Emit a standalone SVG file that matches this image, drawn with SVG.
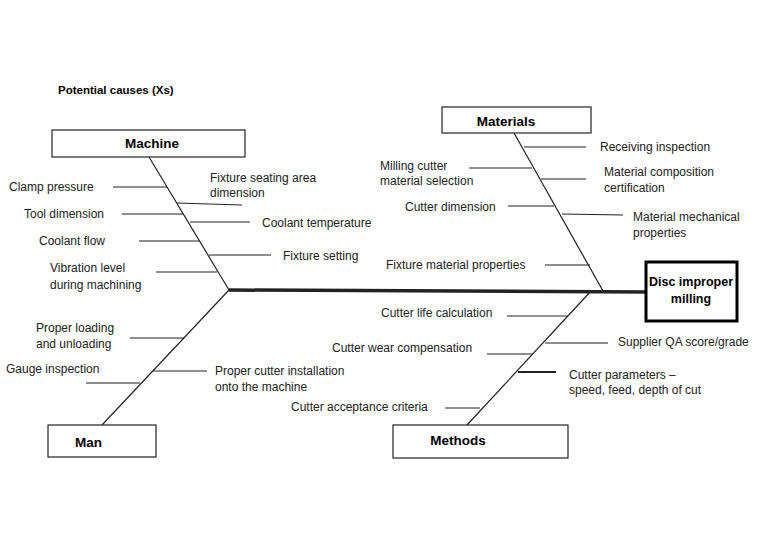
<svg xmlns="http://www.w3.org/2000/svg" width="768" height="543" viewBox="0 0 768 543">
<style>
text{font-family:"Liberation Sans",Arial,sans-serif;font-size:12px;fill:#222}
.t{font-weight:bold;font-size:13.5px;fill:#000}
.b{fill:#fff;stroke:#222;stroke-width:1.2}
line{stroke:#222;stroke-width:1.2}
</style>
<rect width="768" height="543" fill="#fff"/>
<text x="58" y="94" style="font-weight:bold;font-size:11.5px;fill:#000">Potential causes (Xs)</text>
<g id="connectors">
<line x1="229" y1="290" x2="646" y2="292" style="stroke-width:3.5"/>
<line x1="149" y1="157" x2="229" y2="290"/>
<line x1="229" y1="290" x2="102" y2="425"/>
<line x1="514" y1="133" x2="603" y2="291"/>
<line x1="591" y1="291" x2="467" y2="425"/>
<line x1="113" y1="187" x2="167" y2="187"/>
<line x1="122" y1="214" x2="183" y2="214"/>
<line x1="139" y1="241" x2="199" y2="241"/>
<line x1="156" y1="272" x2="217" y2="272"/>
<line x1="177" y1="203" x2="242" y2="205"/>
<line x1="190" y1="222" x2="250" y2="222"/>
<line x1="209" y1="255" x2="271" y2="255"/>
<line x1="130" y1="338" x2="184" y2="338"/>
<line x1="86" y1="383" x2="140" y2="383"/>
<line x1="153" y1="371" x2="207" y2="371"/>
<line x1="524" y1="147" x2="586" y2="147"/>
<line x1="469" y1="168" x2="532" y2="168"/>
<line x1="541" y1="179" x2="586" y2="179"/>
<line x1="508" y1="206" x2="554" y2="206"/>
<line x1="562" y1="214" x2="623" y2="215"/>
<line x1="545" y1="265" x2="590" y2="265"/>
<line x1="507" y1="316" x2="568" y2="316"/>
<line x1="545" y1="343" x2="608" y2="343"/>
<line x1="487" y1="354" x2="532" y2="354"/>
<line x1="518" y1="372" x2="556" y2="372" style="stroke-width:2"/>
<line x1="445" y1="408" x2="480" y2="408"/>
</g>
<g id="machine"><rect class="b" x="52" y="130" width="193" height="27"/><text class="t" x="152" y="148" text-anchor="middle">Machine</text></g>
<g id="man"><rect class="b" x="48" y="425" width="108" height="32"/><text class="t" x="75" y="447">Man</text></g>
<g id="materials"><rect class="b" x="442" y="107" width="149" height="26"/><text class="t" x="506" y="126" text-anchor="middle">Materials</text></g>
<g id="methods"><rect class="b" x="393" y="425" width="175" height="33"/><text class="t" x="458" y="445" text-anchor="middle">Methods</text></g>
<g id="effect"><rect x="646" y="262" width="91" height="59" fill="#fff" stroke="#000" stroke-width="3"/><text class="t" x="691" y="286" text-anchor="middle" style="font-size:12.5px">Disc improper</text><text class="t" x="691" y="303" text-anchor="middle" style="font-size:12.5px">milling</text></g>
<g id="labels">
<text x="9" y="191">Clamp pressure</text>
<text x="24" y="218">Tool dimension</text>
<text x="39" y="245">Coolant flow</text>
<text x="50" y="272">Vibration level</text><text x="50" y="289">during machining</text>
<text x="210" y="182">Fixture seating area</text><text x="210" y="197">dimension</text>
<text x="262" y="227">Coolant temperature</text>
<text x="283" y="260">Fixture setting</text>
<text x="36" y="332">Proper loading</text><text x="36" y="348">and unloading</text>
<text x="6" y="373">Gauge inspection</text>
<text x="215" y="375">Proper cutter installation</text><text x="215" y="391">onto the machine</text>
<text x="600" y="151">Receiving inspection</text>
<text x="380" y="170">Milling cutter</text><text x="380" y="185">material selection</text>
<text x="604" y="176">Material composition</text><text x="604" y="192">certification</text>
<text x="405" y="211">Cutter dimension</text>
<text x="633" y="221">Material mechanical</text><text x="633" y="237">properties</text>
<text x="386" y="269">Fixture material properties</text>
<text x="381" y="317">Cutter life calculation</text>
<text x="618" y="346">Supplier QA score/grade</text>
<text x="332" y="352">Cutter wear compensation</text>
<text x="569" y="379">Cutter parameters –</text><text x="569" y="394">speed, feed, depth of cut</text>
<text x="291" y="411">Cutter acceptance criteria</text>
</g>
</svg>
